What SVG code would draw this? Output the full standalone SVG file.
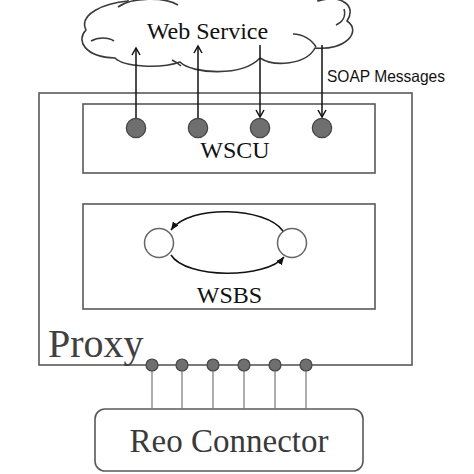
<svg xmlns="http://www.w3.org/2000/svg" width="474" height="474" viewBox="0 0 474 474">
<style>
.box{fill:#fff;stroke:#595959;stroke-width:1.6}
.lbl{font-family:"Liberation Serif","Times New Roman",serif;text-anchor:middle}
.dot{fill:#6f6f6f;stroke:#444;stroke-width:1.2}
.ring{fill:#fff;stroke:#666;stroke-width:1.5}
.msg{stroke:#111;stroke-width:1.5;fill:none}
.port{stroke:#777;stroke-width:1.2}
.cloud{fill:#fff;stroke:#3a3a3a;stroke-width:1.6;stroke-linejoin:round}
</style>
<defs>
<marker id="open" markerWidth="10" markerHeight="10" refX="8" refY="5" orient="auto" markerUnits="userSpaceOnUse">
<path d="M1,1 L8,5 L1,9" fill="none" stroke="#111" stroke-width="1.5"/>
</marker>
<marker id="solid" markerWidth="10" markerHeight="10" refX="8" refY="5" orient="auto" markerUnits="userSpaceOnUse">
<path d="M0,1.5 L8,5 L0,8.5 Z" fill="#111"/>
</marker>
</defs>

<g id="proxy">
<rect class="box" x="39" y="93" width="373" height="272"/>
<text class="lbl" x="48" y="357" font-size="40" fill="#404040" style="text-anchor:start">Proxy</text>
</g>

<g id="web-service">
<path class="cloud" d="M128,1 C105,3 78,14 86,30 C76,40 84,57 115,58 C124,67 160,69 180,62 C192,74 242,77 260,58 C274,67 306,65 315,48 C346,51 362,31 347,21 C357,6 342,-6 318,1 L318,-30 L128,-30 Z"/>
<path class="cloud" fill="none" d="M118,7 C132,-3 165,-3 178,5 M91,41 C98,37 108,37 114,41 M172,60 C176,62 179,64 181,66 M293,34 C303,34 312,40 316,47 M336,25 C343,22 346,16 344,9"/>
<text class="lbl" x="207.5" y="39" font-size="24" fill="#111">Web Service</text>
</g>

<g id="wscu">
<rect class="box" x="83" y="104" width="292" height="69"/>
<circle class="dot" cx="136" cy="128" r="9.7"/>
<circle class="dot" cx="198" cy="128" r="9.7"/>
<circle class="dot" cx="260" cy="128" r="9.7"/>
<circle class="dot" cx="322" cy="128" r="9.7"/>
<text class="lbl" x="235" y="158" font-size="24" fill="#111">WSCU</text>
</g>

<g id="wsbs">
<rect class="box" x="83" y="204" width="292" height="105"/>
<circle class="ring" cx="159" cy="243" r="14.5"/>
<circle class="ring" cx="292" cy="243" r="14.5"/>
<text class="lbl" x="229.5" y="303" font-size="24" fill="#111">WSBS</text>
</g>

<g id="reo-connector">
<rect class="box" x="95" y="409" width="268" height="62" rx="10"/>
<text class="lbl" x="229" y="452" font-size="33" fill="#3a3a3a">Reo Connector</text>
</g>

<g id="connectors">
<line class="msg" x1="136" y1="118" x2="136" y2="48" marker-end="url(#open)"/>
<line class="msg" x1="198" y1="118" x2="198" y2="46" marker-end="url(#open)"/>
<line class="msg" x1="260" y1="45" x2="260" y2="117" marker-end="url(#open)"/>
<line class="msg" x1="322" y1="45" x2="322" y2="117" marker-end="url(#open)"/>
<text x="327" y="82" font-family="'Liberation Sans',Arial,sans-serif" font-size="16.5" fill="#111" textLength="118" lengthAdjust="spacingAndGlyphs">SOAP Messages</text>
<path class="msg" stroke-width="1.4" d="M283,231 C266,207 190,204 171,230" marker-end="url(#solid)"/>
<path class="msg" stroke-width="1.4" d="M171,255 C186,279 266,279 284,257" marker-end="url(#solid)"/>
<line class="port" x1="152" y1="365" x2="152" y2="409"/>
<line class="port" x1="182" y1="365" x2="182" y2="409"/>
<line class="port" x1="213" y1="365" x2="213" y2="409"/>
<line class="port" x1="244" y1="365" x2="244" y2="409"/>
<line class="port" x1="275" y1="365" x2="275" y2="409"/>
<line class="port" x1="306" y1="365" x2="306" y2="409"/>
<circle class="dot" cx="152" cy="365" r="6"/>
<circle class="dot" cx="182" cy="365" r="6"/>
<circle class="dot" cx="213" cy="365" r="6"/>
<circle class="dot" cx="244" cy="365" r="6"/>
<circle class="dot" cx="275" cy="365" r="6"/>
<circle class="dot" cx="306" cy="365" r="6"/>
</g>
</svg>
